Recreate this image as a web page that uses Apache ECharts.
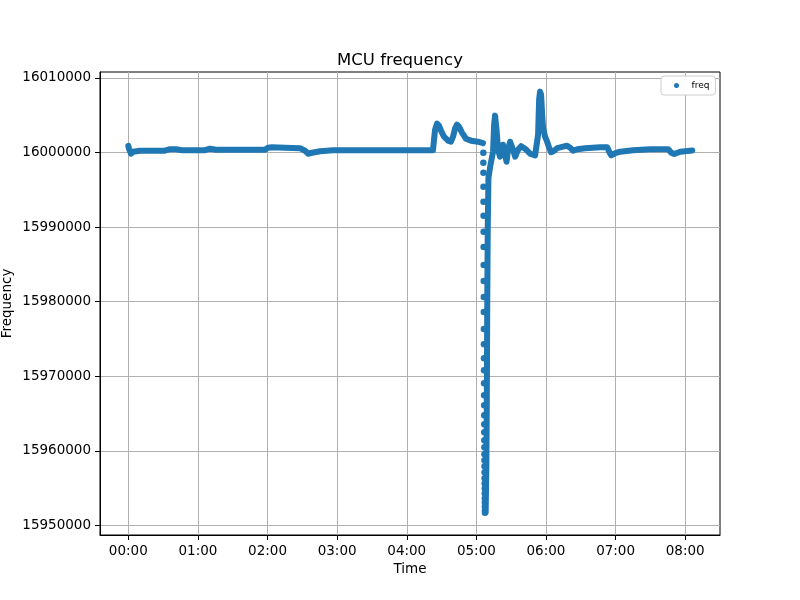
<!DOCTYPE html>
<html>
<head>
<meta charset="utf-8">
<script src="https://cdn.jsdelivr.net/npm/echarts@6/dist/echarts.min.js"></script>
<style>html,body{margin:0;padding:0;background:#fff}#c{width:800px;height:600px}</style>
</head>
<body>
<div id="c"></div>
<script>
// Time in minutes since start, frequency in Hz
const preTimes = [0, 0.6, 2.3, 4.0, 10.1, 31.6, 35.9, 41.1, 46.3, 66.1, 70.4, 75.6, 117.8, 120.4, 123.9, 135.1, 148.0, 152.3, 154.9, 158.4, 165.3, 176.5, 262.6,
  263.5, 264.4, 266.1, 267.8, 269.5, 272.1, 275.6, 278.1, 279.9, 281.6, 283.3, 285.0, 287.6, 291.1, 295.4, 301.4, 305.7];
const preFreqs = [16000900, 16000500, 15999840, 16000110, 16000240, 16000240, 16000440, 16000440, 16000310, 16000310, 16000510, 16000380, 16000380, 16000650, 16000710, 16000650, 16000580, 16000240, 15999840, 15999970, 16000170, 16000310, 16000310,
  16001720, 16003060, 16003870, 16003600, 16002930, 16002120, 16001590, 16001450, 16002120, 16003200, 16003740, 16003470, 16002660, 16001850, 16001590, 16001450, 16001250];

const dipTimes = [306.0, 306.04, 306.08, 306.12, 306.16, 306.2, 306.24, 306.28, 306.32, 306.36, 306.4, 306.44, 306.48, 306.52, 306.56, 306.6, 306.64, 306.68, 306.72, 306.76, 306.8, 306.84, 306.88, 306.92, 306.96, 307.0, 307.04, 307.08, 307.12, 307.16, 307.2, 307.24, 307.28, 307.32, 307.36, 307.4, 307.44];
const dipFreqs = [15999970, 15998630, 15997290, 15995400, 15993390, 15991510, 15989360, 15987340, 15984920, 15982770, 15980620, 15978600, 15976320, 15974300, 15972420, 15970800, 15969060, 15967450, 15966100, 15964760, 15963550, 15962480, 15961400, 15960460, 15959520, 15958710, 15957910, 15957100, 15956300, 15955620, 15954950, 15954280, 15953610, 15953070, 15952530, 15951990, 15951700];

const postTimes = [308.0, 308.6, 309.0, 309.4, 309.8, 310.4, 312.2, 314.4, 315.3, 316.1, 317.4, 318.7, 320.4, 322.2, 323.0, 324.8, 326.0, 327.3, 329.1, 331.6, 333.4, 336.0, 338.6, 342.0, 346.3, 350.6, 352.3,
  353.2, 354.1, 354.9, 355.8, 356.7, 357.5, 359.2, 361.0, 362.7, 364.4, 367.0, 369.6, 374.8, 378.2, 380.8, 383.4, 386.9, 393.8, 406.7, 412.8, 414.5, 416.2, 419.7, 424.0, 435.2, 449.9, 465.4, 468.0, 470.6, 475.7, 486.1];
const postFreqs = [15951750, 15957370, 15966780, 15980220, 15989620, 15996610, 15998360, 16000110, 16003740, 16004950, 16003060, 16000380, 15999440, 16000380, 16001050, 15999700, 15998760, 16000380, 16001450, 16000380, 15999440, 16000380, 16000850, 16000510, 15999840, 15999600, 15999500,
  16002390, 16007100, 16008170, 16007760, 16005080, 16003330, 16002120, 16001450, 16000650, 16000040, 16000240, 16000580, 16000780, 16000910, 16000650, 16000240, 16000440, 16000580, 16000710, 16000710, 16000110, 15999640, 15999910, 16000110, 16000310, 16000440, 16000440, 15999970, 15999800, 16000110, 16000280];

const xTicks = [0, 60, 120, 180, 240, 300, 360, 420, 480];
const yTicks = [15950000, 15960000, 15970000, 15980000, 15990000, 16000000, 16010000];

const COLOR = '#1f77b4';
const lineData = preTimes.map((t, i) => [t, preFreqs[i]])
  .concat([[305.9, '-']])
  .concat(postTimes.map((t, i) => [t, postFreqs[i]]));
const dipData = dipTimes.map((t, i) => [t, dipFreqs[i]]);

function fmtTime(m) {
  const h = Math.floor(m / 60), mm = Math.round(m % 60);
  return String(h).padStart(2, '0') + ':' + String(mm).padStart(2, '0');
}

const chart = echarts.init(document.getElementById('c'), null, {renderer: 'canvas'});
const FONT = 'DejaVu Sans';
chart.setOption({
  animation: false,
  backgroundColor: '#fff',
  title: {
    text: 'MCU frequency', left: 'center', top: 47,
    textStyle: {fontFamily: FONT, fontSize: 16.5, fontWeight: 'normal', color: '#000'}
  },
  legend: {
    data: [{name: 'freq', icon: 'circle'}],
    left: 661, top: 76,
    itemWidth: 20, itemHeight: 5, itemGap: 0,
    padding: [5, 6, 5, 13],
    borderColor: '#cccccc', borderWidth: 1, borderRadius: 3,
    backgroundColor: '#fff',
    textStyle: {fontFamily: FONT, fontSize: 9, color: '#000'}
  },
  grid: {left: 100, top: 72, width: 620, height: 463, show: true, borderColor: '#000', borderWidth: 1, backgroundColor: 'transparent', containLabel: false, outerBoundsMode: 'none'},
  xAxis: {
    type: 'value', min: -24.4, max: 510,
    name: 'Time', nameLocation: 'middle', nameGap: 27, nameMoveOverlap: false,
    nameTextStyle: {fontFamily: FONT, fontSize: 13.5, color: '#000'},
    axisLine: {show: true, onZero: false, lineStyle: {color: '#000', width: 1}},
    axisTick: {show: true, inside: false, length: 5, lineStyle: {color: '#000'}, customValues: xTicks},
    axisLabel: {customValues: xTicks, formatter: fmtTime, margin: 9, fontFamily: FONT, fontSize: 13.5, color: '#000'},
    splitLine: {show: true, lineStyle: {color: '#b0b0b0', width: 1}}
  },
  yAxis: {
    type: 'value', min: 15948700, max: 16010800,
    name: 'Frequency', nameLocation: 'middle', nameGap: 86, nameRotate: 90, nameMoveOverlap: false,
    nameTextStyle: {fontFamily: FONT, fontSize: 13.5, color: '#000'},
    axisLine: {show: true, onZero: false, lineStyle: {color: '#000', width: 1}},
    axisTick: {show: true, inside: false, length: 5, lineStyle: {color: '#000'}, customValues: yTicks},
    axisLabel: {customValues: yTicks, formatter: v => String(v), margin: 9, fontFamily: FONT, fontSize: 13.5, color: '#000'},
    splitLine: {show: true, lineStyle: {color: '#b0b0b0', width: 1}}
  },
  series: [
    {
      name: 'freq', type: 'line', data: lineData, showSymbol: false, connectNulls: false,
      itemStyle: {color: COLOR},
      lineStyle: {color: COLOR, width: 6, cap: 'round', join: 'round'},
      z: 3
    },
    {
      name: 'freq', type: 'scatter', data: dipData, symbol: 'circle', symbolSize: 6.5,
      itemStyle: {color: COLOR, opacity: 1}, z: 3
    }
  ]
});
</script>
</body>
</html>
